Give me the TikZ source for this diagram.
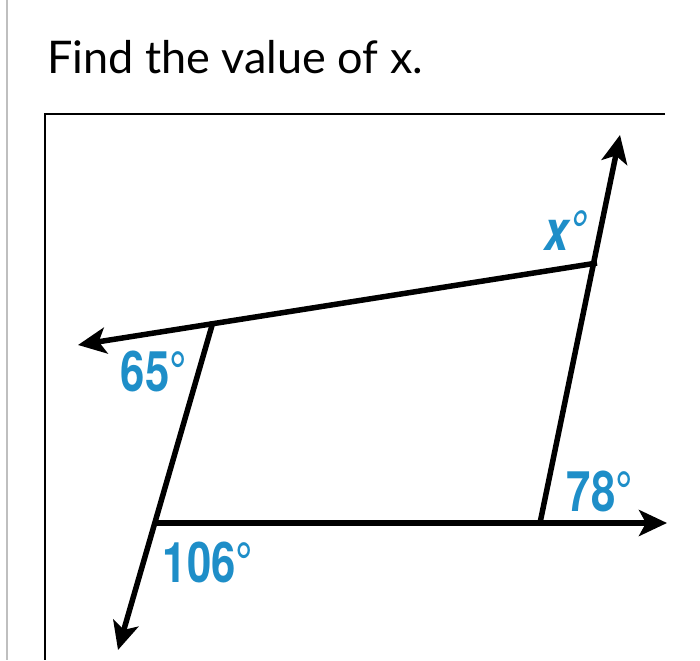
\documentclass[tikz,border=0pt]{standalone}
\usepackage{fontspec}
\setmainfont{Lato}
\newfontfamily\anglefont[FakeStretch=0.78]{TeX Gyre Heros}
\usetikzlibrary{arrows.meta}
\definecolor{angleblue}{RGB}{30,142,200}

\begin{document}
\begin{tikzpicture}[x=1pt, y=-1pt,
    ray/.style={-{Stealth[length=28pt,width=26pt,inset=7pt]}, line width=5.5pt},
    angle/.style={anchor=base, inner sep=0pt, text=angleblue,
      font=\anglefont\bfseries\fontsize{56}{56}\selectfont}]
    \useasboundingbox (0,0) rectangle (700,660);
    %frame
    \draw[black!25, line width=2pt] (7,0) -- (7,660);
    \draw[line width=2pt] (665,114) -- (45,114) -- (45,660);
    \node[anchor=base west, inner sep=0pt, font=\fontsize{45}{45}\selectfont]
        at (47,74) (title) {Find the value of x.};
    %corners and ray ends
    \coordinate (topright) at (597,263);
    \coordinate (topleft) at (213,322);
    \coordinate (botleft) at (155,523);
    \coordinate (botright) at (540,523);
    \coordinate (westend) at (78,345);
    \coordinate (southend) at (118,650);
    \coordinate (eastend) at (667,523);
    \coordinate (northend) at (620,135);
    %rays
    \draw[ray] (topright) -- (westend);
    \draw[ray] (topleft) -- (southend);
    \draw[ray] (botleft) -- (eastend);
    \draw[ray] (botright) -- (northend);
    %angles
    \node[angle] at (154,391) (a65) {65°};
    \node[angle] at (208,582) (a106) {106°};
    \node[angle] at (600,511) (a78) {78°};
    \node[angle] at (565,250) (ax) {\itshape x°};
\end{tikzpicture}
\end{document}
